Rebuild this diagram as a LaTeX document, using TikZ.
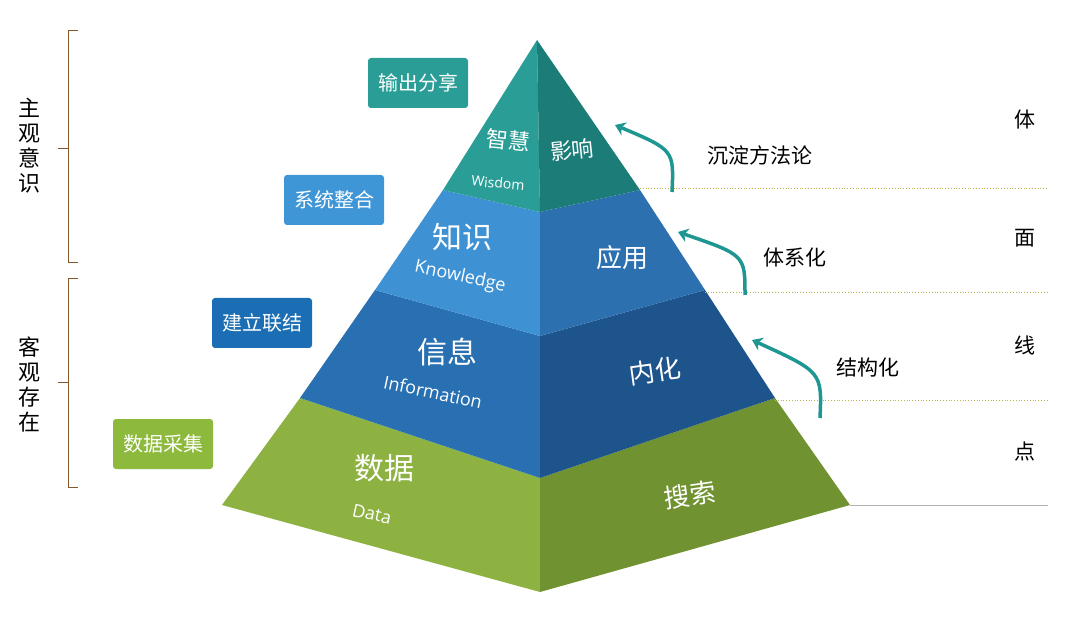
\documentclass[tikz,border=0pt]{standalone}
\usepackage{fontspec}
\usetikzlibrary{arrows.meta}
\newfontfamily\cjk{Noto Sans CJK SC}
\newfontfamily\lat{Open Sans}
\begin{document}
\begin{tikzpicture}[x=1pt,y=-1pt,
  lbl/.style={rounded corners=3pt,text=white,font=\cjk\fontsize{20}{20}\selectfont,minimum height=50,inner xsep=10},
  side/.style={font=\cjk\fontsize{21}{21}\selectfont},
  big/.style={text=white,font=\cjk\fontsize{26}{26}\selectfont},
  eng/.style={text=white,font=\lat\fontsize{18}{18}\selectfont},
  arr/.style={draw={rgb,255:red,30;green,150;blue,145},line width=3.5pt,-{Stealth[length=10pt,width=14pt]}},
  dot/.style={draw=olive!60,dotted,line width=0.8pt},
  brk/.style={draw=brown!70!black,line width=0.8pt}]
\useasboundingbox (0,0) rectangle (1080,639);
% data
\fill[color={rgb,255:red,141;green,178;blue,66}] (222,505) -- (300,398) -- (540,478) -- (540,592) -- cycle;
\fill[color={rgb,255:red,112;green,146;blue,48}] (540,478) -- (775,398) -- (850,505) -- (540,592) -- cycle;
% information
\fill[color={rgb,255:red,40;green,112;blue,178}] (300,398) -- (375,290) -- (540,336) -- (540,478) -- cycle;
\fill[color={rgb,255:red,30;green,84;blue,140}] (540,336) -- (705,290) -- (775,398) -- (540,478) -- cycle;
% knowledge
\fill[color={rgb,255:red,62;green,146;blue,212}] (375,290) -- (443,190) -- (540,212) -- (540,336) -- cycle;
\fill[color={rgb,255:red,44;green,112;blue,176}] (540,212) -- (640,190) -- (705,290) -- (540,336) -- cycle;
% wisdom
\fill[color={rgb,255:red,42;green,158;blue,150}] (443,190) -- (537,40) -- (540,212) -- cycle;
\fill[color={rgb,255:red,28;green,124;blue,120}] (537,40) -- (640,190) -- (540,212) -- cycle;
% pyramid texts
\node[big,rotate=-6,font=\cjk\fontsize{22}{22}\selectfont] (t1) at (508,140) {智慧};
\node[big,rotate=6,font=\cjk\fontsize{22}{22}\selectfont] (t1b) at (572,150) {影响};
\node[eng,rotate=-5,font=\lat\fontsize{14}{14}\selectfont] (e1) at (498,183) {Wisdom};
\node[big,font=\cjk\fontsize{30}{30}\selectfont] (t2) at (462,237) {知识};
\node[eng,rotate=-12] (e2) at (460,277) {Knowledge};
\node[big] (t2b) at (622,258) {应用};
\node[big,font=\cjk\fontsize{30}{30}\selectfont] (t3) at (447,352) {信息};
\node[eng,rotate=-12] (e3) at (433,392) {Information};
\node[big,rotate=8] (t3b) at (655,371) {内化};
\node[big,font=\cjk\fontsize{30}{30}\selectfont] (t4) at (384,468) {数据};
\node[eng,rotate=-12] (e4) at (372,514) {Data};
\node[big,rotate=8] (t4b) at (690,495) {搜索};
% label boxes
\node[lbl,fill={rgb,255:red,42;green,158;blue,150}] (b1) at (418,83) {输出分享};
\node[lbl,fill={rgb,255:red,62;green,150;blue,215}] (b2) at (334,200) {系统整合};
\node[lbl,fill={rgb,255:red,28;green,110;blue,180}] (b3) at (262,323) {建立联结};
\node[lbl,fill={rgb,255:red,141;green,186;blue,60}] (b4) at (163,444) {数据采集};
% dotted lines
\coordinate (d1a) at (640,188); \coordinate (d1b) at (1048,188);
\coordinate (d2a) at (705,292); \coordinate (d2b) at (1048,292);
\coordinate (d3a) at (775,400); \coordinate (d3b) at (1048,400);
\coordinate (d4a) at (850,505); \coordinate (d4b) at (1048,505);
\draw[dot] (d1a) -- (d1b); \draw[dot] (d2a) -- (d2b); \draw[dot] (d3a) -- (d3b);
\draw[draw=gray!60,line width=0.8pt] (d4a) -- (d4b);
% arrows
\coordinate (a1s) at (672,192); \coordinate (a1e) at (615,125);
\coordinate (a2s) at (745,295); \coordinate (a2e) at (678,232);
\coordinate (a3s) at (820,418); \coordinate (a3e) at (752,340);
\draw[arr] (a1s) .. controls (674,150) .. (a1e);
\draw[arr] (a2s) .. controls (745,255) .. (a2e);
\draw[arr] (a3s) .. controls (822,372) .. (a3e);
\node[side] (s1) at (760,155) {沉淀方法论};
\node[side] (s2) at (795,258) {体系化};
\node[side] (s3) at (868,368) {结构化};
\node[side] (r1) at (1025,120) {体};
\node[side] (r2) at (1025,238) {面};
\node[side] (r3) at (1025,345) {线};
\node[side] (r4) at (1025,452) {点};
% brackets
\draw[brk] (78,30) -- (68,30) -- (68,262) -- (78,262);
\draw[brk] (58,148) -- (68,148);
\draw[brk] (78,278) -- (68,278) -- (68,487) -- (78,487);
\draw[brk] (58,382) -- (68,382);
\node[side,align=center,font=\cjk\fontsize{22}{25}\selectfont] (L1) at (30,146) {主\\观\\意\\识};
\node[side,align=center,font=\cjk\fontsize{22}{25}\selectfont] (L2) at (30,384) {客\\观\\存\\在};
\end{tikzpicture}
\end{document}
